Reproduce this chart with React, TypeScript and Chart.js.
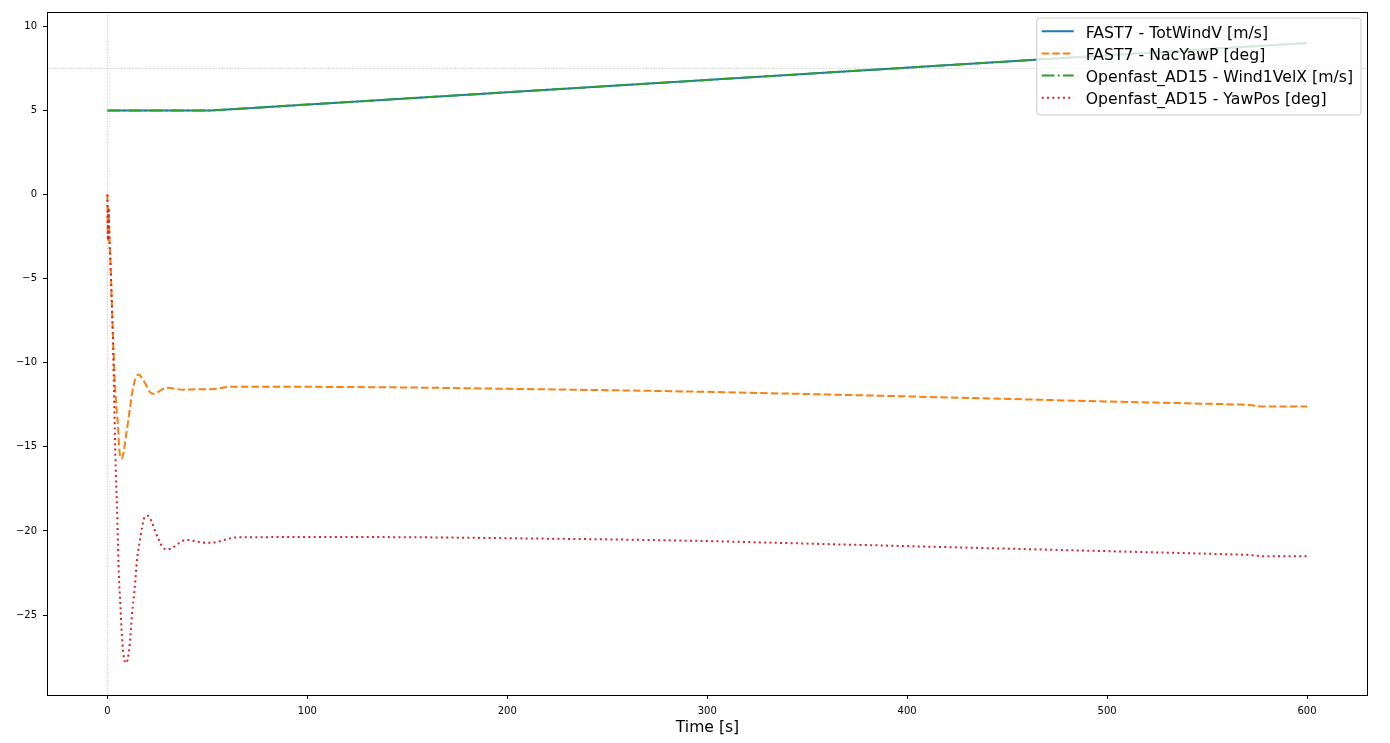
import React, { useEffect, useRef } from "react";
import { Chart, registerables } from "chart.js";

Chart.register(...registerables);

// ---- data ----
const windTime = [0, 52, 600];
const totWindV = [5, 5, 9];
const wind1VelX = [5, 5, 9];

const fast7Time = [0, 0.3, 0.6, 1.0, 1.5, 1.85, 2.7, 3.5, 4.3, 5.2, 6.0, 7.0, 8.0, 9.0, 10.7, 12.3, 14.0, 15.7, 17.0, 19.0, 21.0, 22.8, 24.5, 26.5, 28.5, 30.7, 34, 38, 45, 53, 57, 61.5, 70, 100, 150, 200, 250, 300, 350, 400, 450, 500, 540, 565, 570, 574, 578, 590, 600];
const nacYawP = [0, -2.7, -0.8, -2.5, -3.9, -5.1, -8.1, -10.6, -12.3, -13.6, -15.2, -15.7, -15.4, -14.6, -13.2, -11.85, -10.95, -10.7, -10.85, -11.25, -11.7, -11.85, -11.8, -11.65, -11.52, -11.49, -11.55, -11.6, -11.58, -11.57, -11.5, -11.43, -11.42, -11.43, -11.47, -11.55, -11.63, -11.73, -11.86, -12.0, -12.15, -12.3, -12.41, -12.48, -12.5, -12.56, -12.6, -12.6, -12.6];

const openfastTime = [0, 0.3, 0.6, 1.0, 1.5, 1.85, 2.3, 2.8, 3.2, 3.7, 4.3, 4.8, 5.2, 5.7, 6.5, 7.3, 8.2, 9.2, 10.2, 11.2, 12.3, 13.7, 14.8, 16, 17.3, 18.7, 20.2, 22, 24, 26.2, 27.5, 29.8, 32.2, 34.2, 36.5, 39, 41.5, 44, 46.5, 49, 51.8, 54.5, 57, 59.5, 62, 64.8, 72, 100, 150, 200, 250, 300, 350, 400, 450, 500, 540, 565, 570, 574, 578, 590, 600];
const yawPos = [0, -2.7, -0.8, -2.5, -3.9, -5.1, -6.8, -8.7, -11.0, -14.0, -16.8, -18.5, -20.3, -22.5, -24.4, -26.3, -27.45, -27.85, -27.6, -26.7, -24.98, -23.35, -21.73, -20.74, -19.79, -19.16, -19.1, -19.41, -20.05, -20.64, -20.94, -21.09, -21.03, -20.86, -20.68, -20.54, -20.54, -20.62, -20.66, -20.7, -20.7, -20.66, -20.58, -20.5, -20.42, -20.38, -20.37, -20.36, -20.37, -20.43, -20.5, -20.6, -20.75, -20.9, -21.05, -21.2, -21.32, -21.4, -21.42, -21.46, -21.5, -21.5, -21.5];

const seriesLabels = [
  "FAST7 - TotWindV [m/s]",
  "FAST7 - NacYawP [deg]",
  "Openfast_AD15 - Wind1VelX [m/s]",
  "Openfast_AD15 - YawPos [deg]",
];
const xTickValues = [0, 100, 200, 300, 400, 500, 600];
const yTickValues = [-25, -20, -15, -10, -5, 0, 5, 10];
const refLineX = [0];
const refLineY = [7.5];
const xAxisTitle = "Time [s]";

const FONT = '"DejaVu Sans", "Liberation Sans", sans-serif';
const LEGEND_FONT_SIZE = 15.7;

const toPoints = (xs: number[], ys: number[]) => xs.map((x, i) => ({ x, y: ys[i] }));

const refLinesPlugin = {
  id: "refLines",
  beforeDatasetsDraw(chart: any) {
    const { ctx, chartArea: a, scales } = chart;
    ctx.save();
    ctx.strokeStyle = "#b0b0b0";
    ctx.lineWidth = 0.8;
    ctx.setLineDash([1, 1.65]);
    refLineX.forEach((v) => {
      const px = Math.round(scales.x.getPixelForValue(v)) + 0.5;
      ctx.beginPath();
      ctx.moveTo(px, a.top);
      ctx.lineTo(px, a.bottom);
      ctx.stroke();
    });
    refLineY.forEach((v) => {
      const py = Math.round(scales.y.getPixelForValue(v)) + 0.5;
      ctx.beginPath();
      ctx.moveTo(a.left, py);
      ctx.lineTo(a.right, py);
      ctx.stroke();
    });
    ctx.restore();
  },
  afterDatasetsDraw(chart: any) {
    const { ctx, chartArea: a } = chart;
    ctx.save();
    ctx.strokeStyle = "#000";
    ctx.lineWidth = 1;
    ctx.setLineDash([]);
    ctx.strokeRect(Math.round(a.left) + 0.5, Math.round(a.top) + 0.5, Math.round(a.right - a.left) - 1, Math.round(a.bottom - a.top));
    ctx.restore();
  },
};

const legendPlugin = {
  id: "mplLegend",
  afterDraw(chart: any) {
    const { ctx, chartArea: a } = chart;
    const ds = chart.data.datasets;
    ctx.save();
    ctx.font = `${LEGEND_FONT_SIZE}px ${FONT}`;
    const textW = Math.max(...ds.map((d: any) => ctx.measureText(d.label).width));
    const handleLen = 32;
    const padL = 5;
    const gap = 12;
    const padR = 8;
    const rowH = 22.2;
    const boxW = padL + handleLen + gap + textW + padR;
    const boxH = 97;
    const right = a.right - 7;
    const left = right - boxW;
    const top = a.top + 6;
    const r = 3;
    ctx.beginPath();
    ctx.moveTo(left + r, top);
    ctx.lineTo(right - r, top);
    ctx.quadraticCurveTo(right, top, right, top + r);
    ctx.lineTo(right, top + boxH - r);
    ctx.quadraticCurveTo(right, top + boxH, right - r, top + boxH);
    ctx.lineTo(left + r, top + boxH);
    ctx.quadraticCurveTo(left, top + boxH, left, top + boxH - r);
    ctx.lineTo(left, top + r);
    ctx.quadraticCurveTo(left, top, left + r, top);
    ctx.closePath();
    ctx.fillStyle = "rgba(255,255,255,0.8)";
    ctx.fill();
    ctx.strokeStyle = "#cccccc";
    ctx.lineWidth = 1;
    ctx.stroke();
    ds.forEach((d: any, i: number) => {
      const baseY = top + 19.7 + i * rowH;
      const lineY = baseY - 6.5;
      ctx.beginPath();
      ctx.strokeStyle = d.borderColor;
      ctx.lineWidth = d.borderWidth;
      ctx.lineCap = "butt";
      ctx.setLineDash(d.borderDash || []);
      ctx.moveTo(left + padL, lineY);
      ctx.lineTo(left + padL + handleLen, lineY);
      ctx.stroke();
      ctx.setLineDash([]);
      ctx.fillStyle = "#000";
      ctx.textBaseline = "alphabetic";
      ctx.textAlign = "left";
      ctx.fillText(d.label, left + padL + handleLen + gap, baseY);
    });
    ctx.restore();
  },
};

export default function App() {
  const canvasRef = useRef<HTMLCanvasElement | null>(null);

  useEffect(() => {
    const canvas = canvasRef.current;
    if (!canvas) return;
    const common = {
      pointRadius: 0,
      pointHoverRadius: 0,
      borderWidth: 2,
      fill: false,
      borderCapStyle: "butt" as const,
    };
    const chart = new Chart(canvas, {
      type: "line",
      data: {
        datasets: [
          { ...common, order: 4, label: seriesLabels[0], data: toPoints(windTime, totWindV), borderColor: "#1f77b4", borderDash: [] },
          { ...common, order: 3, label: seriesLabels[1], data: toPoints(fast7Time, nacYawP), borderColor: "#ff7f0e", borderDash: [7.4, 3.2], cubicInterpolationMode: "monotone" },
          { ...common, order: 2, label: seriesLabels[2], data: toPoints(windTime, wind1VelX), borderColor: "#2ca02c", borderDash: [12.8, 3.2, 2, 3.2] },
          { ...common, order: 1, label: seriesLabels[3], data: toPoints(openfastTime, yawPos), borderColor: "#d62728", borderDash: [2, 3.3], cubicInterpolationMode: "monotone" },
        ] as any,
      },
      options: {
        responsive: false,
        animation: false,
        devicePixelRatio: 1,
        parsing: false as any,
        layout: { padding: { left: 0, top: 11, right: 22, bottom: 0 } },
        plugins: {
          legend: { display: false },
          tooltip: { enabled: false },
          title: { display: false },
        },
        events: [],
        scales: {
          x: {
            type: "linear",
            min: -30.2,
            max: 630.5,
            afterFit: (s: any) => {
              s.height = 48;
            },
            afterBuildTicks: (s: any) => {
              s.ticks = xTickValues.map((v) => ({ value: v }));
            },
            grid: { display: true, drawOnChartArea: false, drawTicks: true, tickLength: 4, tickColor: "#000", lineWidth: 1 },
            border: { display: false },
            ticks: {
              color: "#000",
              font: { family: FONT, size: 10 },
              padding: 6,
              maxRotation: 0,
              callback: (v: any) => String(v),
            },
            title: {
              display: true,
              text: xAxisTitle,
              color: "#000",
              font: { family: FONT, size: 15.6 },
              padding: { top: 4, bottom: 6 },
            },
          },
          y: {
            type: "linear",
            min: -29.75,
            max: 10.85,
            afterFit: (s: any) => {
              s.width = 47;
            },
            afterBuildTicks: (s: any) => {
              s.ticks = yTickValues.map((v) => ({ value: v }));
            },
            grid: { display: true, drawOnChartArea: false, drawTicks: true, tickLength: 4, tickColor: "#000", lineWidth: 1 },
            border: { display: false },
            ticks: {
              color: "#000",
              font: { family: FONT, size: 10 },
              padding: 6,
              callback: (v: any) => (Number(v) < 0 ? "\u2212" + Math.abs(Number(v)) : String(v)),
            },
          },
        },
      },
      plugins: [refLinesPlugin, legendPlugin],
    });
    return () => chart.destroy();
  }, []);

  return (
    <div style={{ position: "fixed", left: 0, top: 0, width: 1390, height: 743, background: "#fff" }}>
      <canvas ref={canvasRef} width={1390} height={743} style={{ width: 1390, height: 743, display: "block" }} />
    </div>
  );
}
